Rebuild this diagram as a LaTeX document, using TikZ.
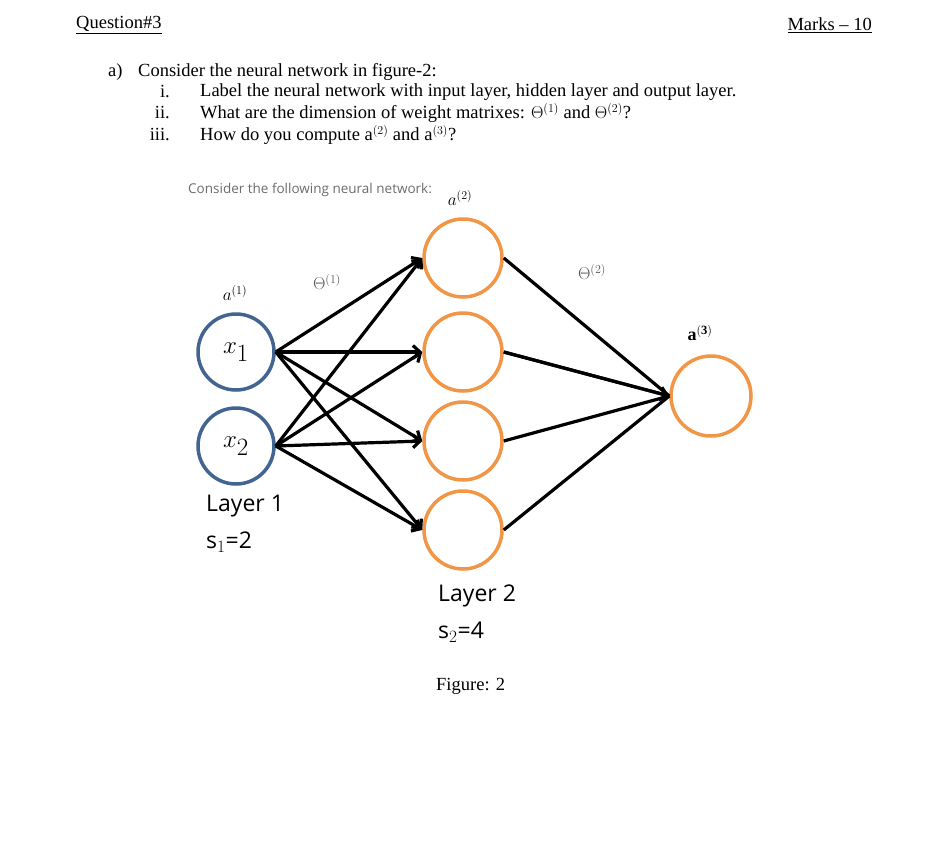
\documentclass[tikz,border=0pt]{standalone}
\usepackage{fontspec}
\setmainfont{Liberation Serif}
\newfontfamily\sansf{Open Sans}
\usetikzlibrary{arrows.meta}
\begin{document}
\begin{tikzpicture}[x=1pt,y=-1pt,
  txt/.style={anchor=west,inner sep=0,font=\fontsize{18.5}{20}\selectfont},
  inp/.style={circle,draw={rgb,255:red,65;green,100;blue,145},line width=3.5pt,minimum size=76pt,inner sep=0},
  hid/.style={circle,draw={rgb,255:red,240;green,150;blue,70},line width=3.5pt,minimum size=78pt,inner sep=0},
  ar/.style={line width=3.2pt,-{Straight Barb[length=7pt,width=13pt]}},
  ln/.style={line width=3.2pt},
  ml/.style={inner sep=0,font=\fontsize{18}{20}\selectfont},
  lab/.style={inner sep=0,font=\sansf\fontsize{23}{26}\selectfont}]
\useasboundingbox (0,0) rectangle (925,859);
\node[txt] (q) at (76,25) {\underline{Question\#3}};
\node[txt,anchor=east] (m) at (872,25) {\underline{Marks -- 10}};
\node[txt] (a) at (108,72) {a)};
\node[txt] (a1) at (138,72) {Consider the neural network in figure-2:};
\node[txt,anchor=east] (i1) at (170,92) {i.};
\node[txt] (t1) at (200,92) {Label the neural network with input layer, hidden layer and output layer.};
\node[txt,anchor=east] (i2) at (170,113) {ii.};
\node[txt] (t2) at (200,113) {What are the dimension of weight matrixes: $\Theta^{(1)}$ and $\Theta^{(2)}$?};
\node[txt,anchor=east] (i3) at (170,135) {iii.};
\node[txt] (t3) at (200,135) {How do you compute a$^{(2)}$ and a$^{(3)}$?};
\node[anchor=west,inner sep=0,text=gray!85!black,font=\sansf\fontsize{13.5}{15}\selectfont] (c) at (188,190) {Consider the following neural network:};
\node[ml] (la2) at (460,198) {$a^{(2)}$};
\node[ml] (la1) at (235,293) {$a^{(1)}$};
\node[ml,text=gray!70!black] (th1) at (327,282) {$\Theta^{(1)}$};
\node[ml,text=gray!70!black] (th2) at (592,272) {$\Theta^{(2)}$};
\node[ml] (la3) at (700,333) {$\mathbf{a}^{(\mathbf{3})}$};
\node[inp] (x1) at (236,352) {\fontsize{36}{36}\selectfont$x_1$};
\node[inp] (x2) at (236,446) {\fontsize{36}{36}\selectfont$x_2$};
\foreach \i/\y in {1/258,2/352,3/441,4/530} \node[hid] (h\i) at (463,\y) {};
\node[hid,minimum size=80pt] (o) at (711,396) {};
\foreach \s in {x1,x2} \foreach \i in {1,2,3,4} \draw[ar] (\s.east) -- (h\i.west);
\foreach \i in {1,2,3,4} \draw[ln] (h\i.east) -- (o.west);
\draw[ar] (h2.east) -- (o.west);
\node[lab,anchor=west] (l1) at (206,506) {Layer 1};
\node[lab,anchor=west] (s1) at (206,542) {s$_1$=2};
\node[lab,anchor=west] (l2) at (438,596) {Layer 2};
\node[lab,anchor=west] (s2) at (438,632) {s$_2$=4};
\node[txt] (f) at (436,686) {Figure: 2};
\end{tikzpicture}
\end{document}
